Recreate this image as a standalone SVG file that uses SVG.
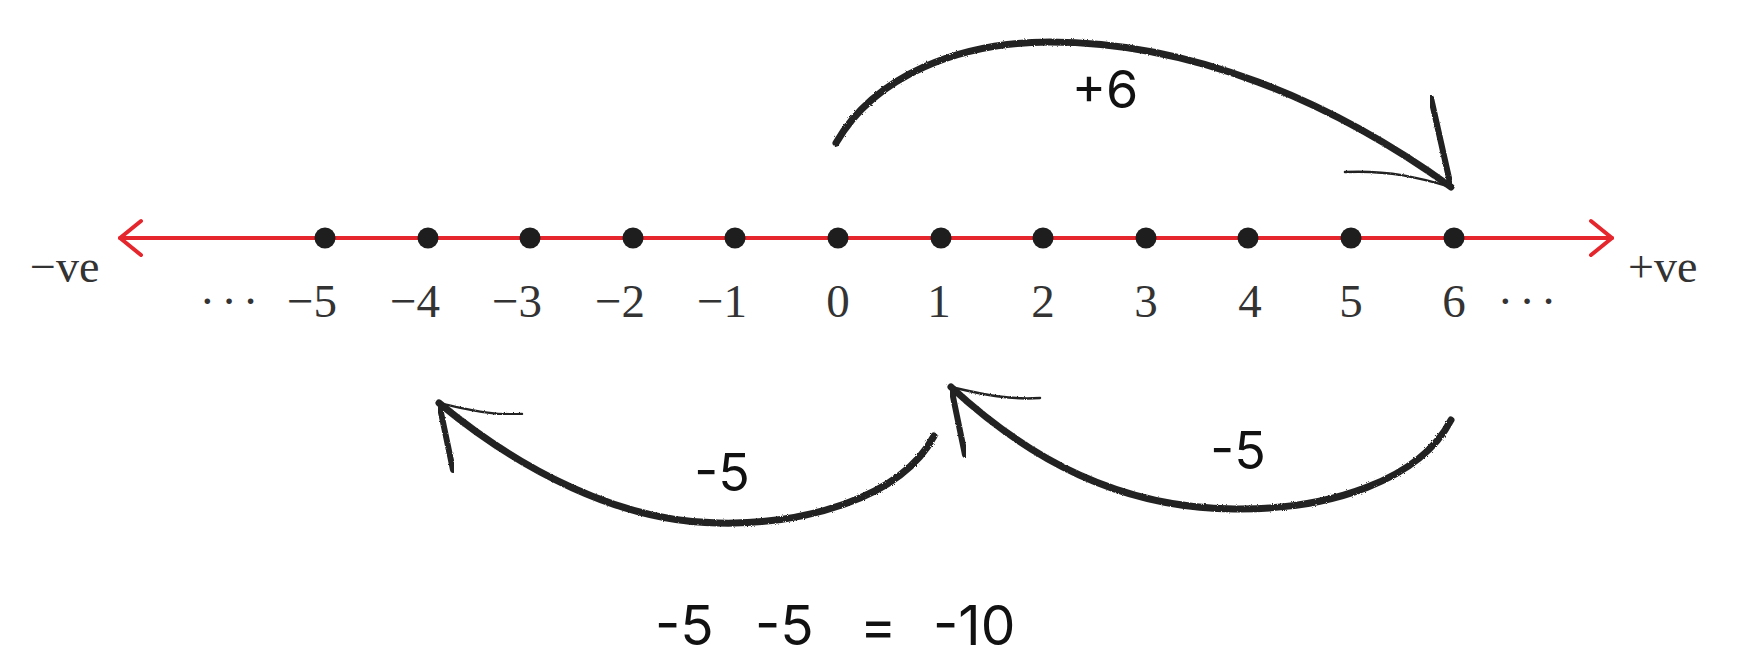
<svg xmlns="http://www.w3.org/2000/svg" width="1737" height="670" viewBox="0 0 1737 670">
<defs>
<style>
.axis{stroke:#e5262d;stroke-width:4;fill:none;stroke-linecap:round;stroke-linejoin:round}
.dot{fill:#1e1e1e}
.num{font-family:"Liberation Serif",serif;font-size:47px;fill:#333;text-anchor:middle}
.neg{text-anchor:end}
.side{font-family:"Liberation Serif",serif;font-size:46px;fill:#333}
.arc{stroke:#222;stroke-width:7;fill:none;stroke-linecap:round;filter:url(#rough)}
.arm{stroke:#222;stroke-width:6;fill:none;stroke-linecap:round;filter:url(#rough)}
.thin{stroke:#222;stroke-width:2.5;fill:none;stroke-linecap:round;filter:url(#rough)}
.lbl{font-family:Inter,"Noto Sans",sans-serif;font-size:52px;fill:#111;text-anchor:middle}
.eq{font-family:Inter,"Noto Sans",sans-serif;font-size:55px;fill:#111}
</style>
<filter id="rough" x="-5%" y="-5%" width="110%" height="110%">
<feTurbulence type="fractalNoise" baseFrequency="0.9" numOctaves="2" seed="3" result="n"/>
<feDisplacementMap in="SourceGraphic" in2="n" scale="2.5"/>
</filter>
</defs>
<rect width="1737" height="670" fill="#fff"/>
<g id="axis">
<path class="axis" d="M120,238 H1612"/>
<path class="axis" d="M141,221 L120,238 L141,255"/>
<path class="axis" d="M1591,221 L1612,238 L1591,255"/>
<text class="side" x="30" y="282">−ve</text>
<text class="side" x="1628" y="282">+ve</text>
<text class="num" x="232" y="317" letter-spacing="6">···</text>
<text class="num" x="1530" y="317" letter-spacing="6">···</text>
</g>
<g id="n-5"><circle class="dot" cx="325" cy="238" r="10.5"/><text class="num neg" x="337" y="317">−5</text></g>
<g id="n-4"><circle class="dot" cx="428" cy="238" r="10.5"/><text class="num neg" x="440" y="317">−4</text></g>
<g id="n-3"><circle class="dot" cx="530" cy="238" r="10.5"/><text class="num neg" x="542" y="317">−3</text></g>
<g id="n-2"><circle class="dot" cx="633" cy="238" r="10.5"/><text class="num neg" x="645" y="317">−2</text></g>
<g id="n-1"><circle class="dot" cx="735" cy="238" r="10.5"/><text class="num neg" x="747" y="317">−1</text></g>
<g id="n0"><circle class="dot" cx="838" cy="238" r="10.5"/><text class="num" x="838" y="317">0</text></g>
<g id="n1"><circle class="dot" cx="941" cy="238" r="10.5"/><text class="num" x="939" y="317">1</text></g>
<g id="n2"><circle class="dot" cx="1043" cy="238" r="10.5"/><text class="num" x="1043" y="317">2</text></g>
<g id="n3"><circle class="dot" cx="1146" cy="238" r="10.5"/><text class="num" x="1146" y="317">3</text></g>
<g id="n4"><circle class="dot" cx="1248" cy="238" r="10.5"/><text class="num" x="1250" y="317">4</text></g>
<g id="n5"><circle class="dot" cx="1351" cy="238" r="10.5"/><text class="num" x="1351" y="317">5</text></g>
<g id="n6"><circle class="dot" cx="1454" cy="238" r="10.5"/><text class="num" x="1454" y="317">6</text></g>
<g id="connectors">
<path class="arc" d="M836,143 C875,75 960,42 1050,42 C1190,42 1330,100 1451,187"/>
<path class="arm" d="M1451,187 L1431,98"/>
<path class="thin" d="M1451,187 C1420,178 1390,170 1345,172"/>
<path class="arc" d="M934,436 C900,500 800,525 718,523 C620,522 520,470 439,403"/>
<path class="arm" d="M439,403 L453,470"/>
<path class="thin" d="M439,403 C470,410 495,416 522,414"/>
<path class="arc" d="M1451,420 C1420,480 1330,510 1234,509 C1120,508 1030,460 951,387"/>
<path class="arm" d="M951,387 L965,455"/>
<path class="thin" d="M951,387 C985,395 1010,400 1040,398"/>
</g>
<g id="labels">
<text class="lbl" x="1105" y="108">+6</text>
<text class="lbl" x="722" y="491">-5</text>
<text class="lbl" x="1238" y="469">-5</text>
<text class="eq" y="645"><tspan x="655">-5</tspan><tspan x="755">-5</tspan><tspan x="860">=</tspan><tspan x="933">-10</tspan></text>
</g>
</svg>
